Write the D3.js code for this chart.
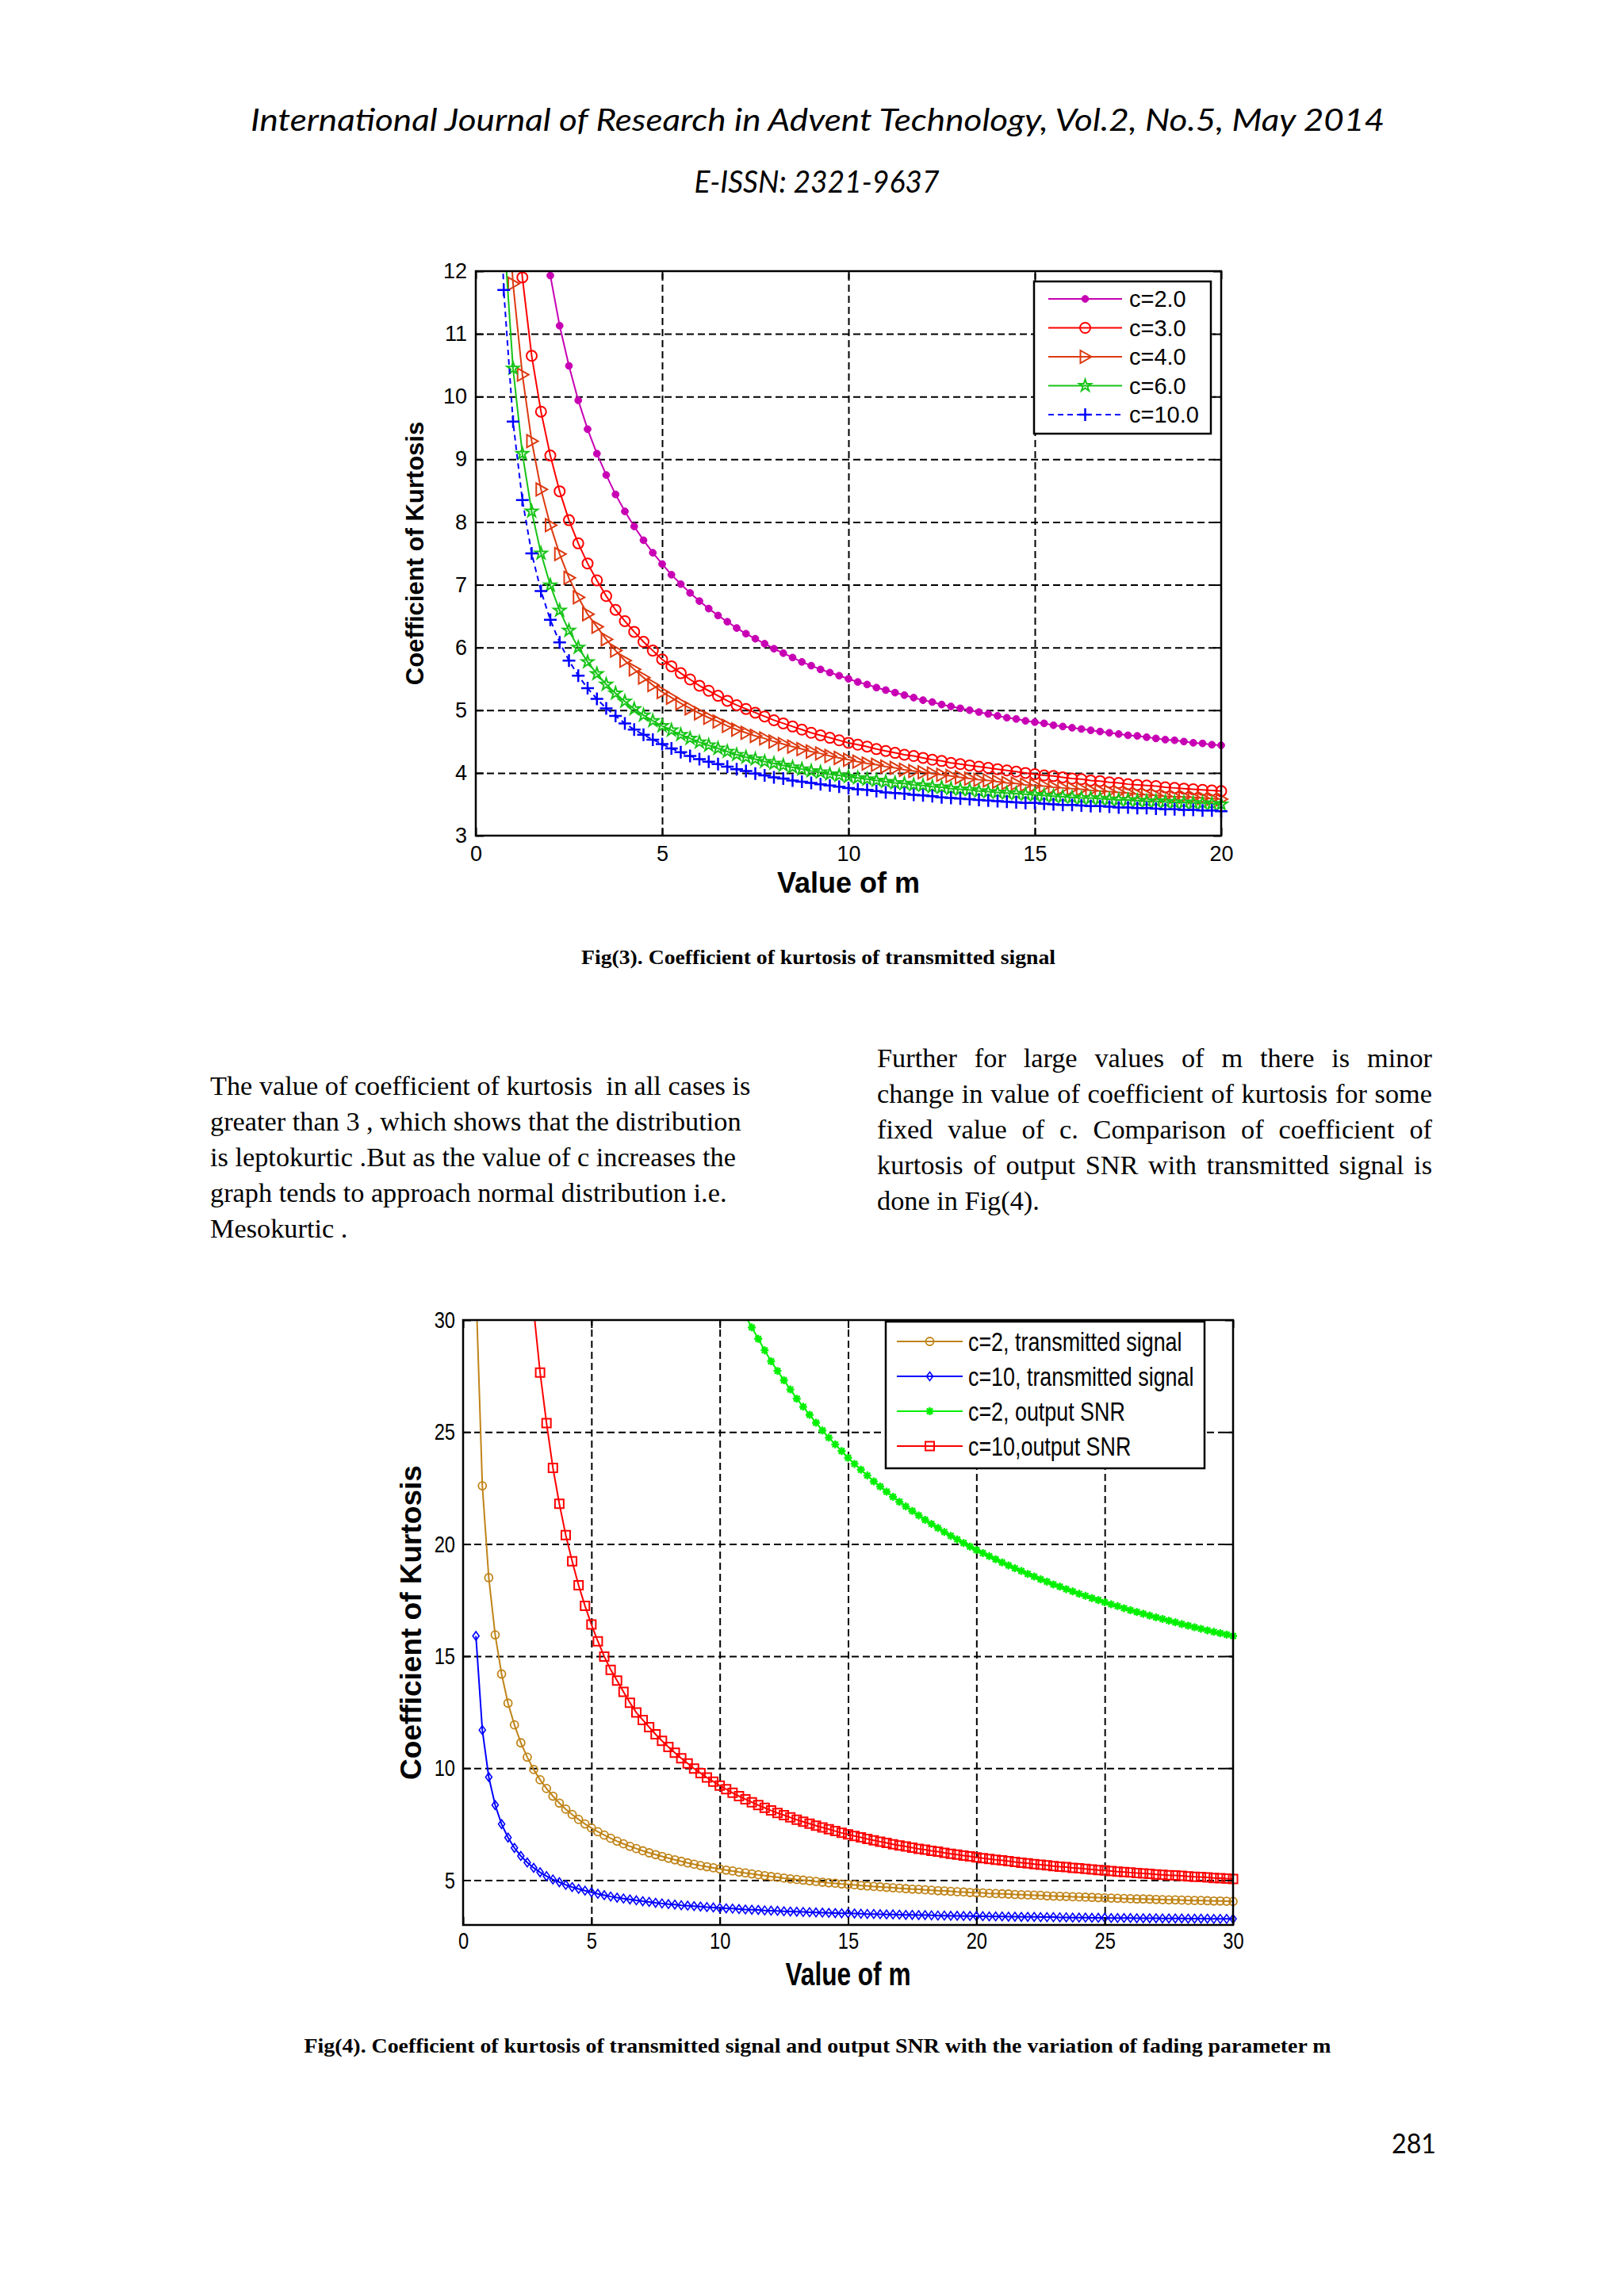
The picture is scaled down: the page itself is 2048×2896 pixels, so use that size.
<!DOCTYPE html>
<html>
<head>
<meta charset="utf-8">
<script src="https://cdnjs.cloudflare.com/ajax/libs/d3/7.8.5/d3.min.js"></script>
<style>
  body { margin: 0; background: #fff; }
  svg { display: block; }
</style>
</head>
<body>
<script>
// every curve is sampled on the same m grid
var mStep = 0.25;

// transmitted signal, c=2 (m = 0.5 .. 30)
var kurtC2Start = 0.5;
var kurtC2 = [31.5, 22.6,
  18.5, 15.95, 14.2, 12.9,   11.93, 11.13, 10.49, 9.94,   9.48, 9.09, 8.75, 8.44,
  8.17, 7.93, 7.71, 7.51,    7.33, 7.16, 7.01, 6.87,      6.74, 6.62, 6.51, 6.41,
  6.31, 6.22, 6.14, 6.06,    5.98, 5.91, 5.84, 5.77,      5.71, 5.65, 5.60, 5.55,
  5.50, 5.45, 5.41, 5.36,    5.32, 5.28, 5.24, 5.20,      5.16, 5.13, 5.09, 5.06,
  5.03, 5.00, 4.97, 4.94,    4.91, 4.88, 4.86, 4.83,      4.81, 4.79, 4.76, 4.74,
  4.72, 4.70, 4.68, 4.66,    4.64, 4.62, 4.60, 4.59,      4.57, 4.55, 4.53, 4.52,
  4.50, 4.48, 4.47, 4.45,    4.44, 4.43, 4.41, 4.40,      4.39, 4.38, 4.36, 4.35,
  4.34, 4.33, 4.32, 4.30,    4.29, 4.28, 4.27, 4.26,      4.25, 4.24, 4.23, 4.22,
  4.21, 4.20, 4.19, 4.18,    4.17, 4.16, 4.16, 4.15,      4.14, 4.13, 4.12, 4.12,
  4.11, 4.10, 4.09, 4.09,    4.08, 4.07, 4.07, 4.06,
  4.05];

// transmitted signal, c=3 (m = 0.5 .. 20)
var kurtC3Start = 0.5;
var kurtC3 = [21.5, 16.45,
  13.7, 11.9, 10.65, 9.76,   9.06, 8.49, 8.03, 7.66,      7.34, 7.07, 6.82, 6.60,
  6.42, 6.25, 6.09, 5.95,    5.81, 5.70, 5.59, 5.49,      5.39, 5.31, 5.23, 5.15,
  5.08, 5.02, 4.96, 4.90,    4.84, 4.79, 4.74, 4.69,      4.64, 4.60, 4.56, 4.52,
  4.48, 4.45, 4.42, 4.38,    4.35, 4.32, 4.29, 4.27,      4.24, 4.21, 4.19, 4.16,
  4.14, 4.12, 4.10, 4.08,    4.06, 4.04, 4.02, 4.00,      3.98, 3.96, 3.95, 3.93,
  3.91, 3.90, 3.88, 3.87,    3.85, 3.84, 3.82, 3.81,      3.80, 3.79, 3.77, 3.76,
  3.75, 3.74, 3.73, 3.72,
  3.71];

// transmitted signal, c=4 (m = 0.5 .. 20)
var kurtC4Start = 0.5;
var kurtC4 = [18.3, 14.1,
  11.8, 10.35, 9.29, 8.52,   7.95, 7.49, 7.11, 6.80,      6.53, 6.33, 6.13, 5.95,
  5.79, 5.65, 5.52, 5.40,    5.29, 5.20, 5.11, 5.03,      4.95, 4.88, 4.82, 4.75,
  4.69, 4.64, 4.59, 4.55,    4.50, 4.46, 4.42, 4.38,      4.34, 4.31, 4.27, 4.24,
  4.21, 4.18, 4.15, 4.13,    4.10, 4.08, 4.05, 4.03,      4.01, 3.99, 3.97, 3.95,
  3.93, 3.91, 3.89, 3.88,    3.86, 3.84, 3.83, 3.81,      3.80, 3.79, 3.77, 3.76,
  3.75, 3.74, 3.72, 3.71,    3.70, 3.69, 3.68, 3.66,      3.65, 3.64, 3.63, 3.62,
  3.62, 3.61, 3.60, 3.59,
  3.58];

// transmitted signal, c=6 (m = 0.5 .. 20)
var kurtC6Start = 0.5;
var kurtC6 = [16.9, 12.65,
  10.45, 9.09, 8.17, 7.50,   6.99, 6.59, 6.27, 6.00,      5.77, 5.58, 5.41, 5.27,
  5.14, 5.02, 4.92, 4.83,    4.75, 4.68, 4.61, 4.55,      4.49, 4.44, 4.39, 4.34,
  4.29, 4.25, 4.22, 4.18,    4.15, 4.12, 4.09, 4.06,      4.03, 4.01, 3.98, 3.96,
  3.94, 3.92, 3.90, 3.88,    3.86, 3.84, 3.83, 3.81,      3.80, 3.78, 3.77, 3.75,
  3.74, 3.73, 3.71, 3.70,    3.69, 3.68, 3.67, 3.66,      3.65, 3.64, 3.63, 3.62,
  3.61, 3.60, 3.60, 3.59,    3.58, 3.57, 3.57, 3.56,      3.55, 3.55, 3.54, 3.53,
  3.53, 3.52, 3.52, 3.51,
  3.50];

// transmitted signal, c=10 (m = 0.5 .. 30)
var kurtC10Start = 0.5;
var kurtC10 = [15.9, 11.7,
  9.60, 8.35, 7.50, 6.90,    6.44, 6.08, 5.79, 5.55,      5.35, 5.18, 5.03, 4.91,
  4.79, 4.69, 4.61, 4.53,    4.46, 4.39, 4.33, 4.27,      4.22, 4.18, 4.14, 4.10,
  4.06, 4.03, 3.99, 3.96,    3.93, 3.91, 3.88, 3.86,      3.84, 3.82, 3.80, 3.78,
  3.76, 3.74, 3.73, 3.71,    3.69, 3.68, 3.67, 3.65,      3.64, 3.63, 3.61, 3.60,
  3.59, 3.58, 3.57, 3.56,    3.55, 3.54, 3.53, 3.52,      3.52, 3.51, 3.50, 3.49,
  3.49, 3.48, 3.47, 3.47,    3.46, 3.45, 3.45, 3.44,      3.44, 3.43, 3.42, 3.42,
  3.41, 3.41, 3.40, 3.40,    3.39, 3.39, 3.38, 3.38,      3.38, 3.37, 3.37, 3.36,
  3.36, 3.36, 3.35, 3.35,    3.35, 3.34, 3.34, 3.33,      3.33, 3.33, 3.32, 3.32,
  3.32, 3.31, 3.31, 3.31,    3.31, 3.30, 3.30, 3.30,      3.30, 3.29, 3.29, 3.29,
  3.29, 3.28, 3.28, 3.28,    3.28, 3.27, 3.27, 3.27,
  3.27];

// output SNR, c=2 (m = 11 .. 30)
var snrC2Start = 11;
var snrC2 = [
  30.19, 29.67, 29.16, 28.65,  28.16, 27.73, 27.31, 26.90,  26.49, 26.13, 25.77, 25.42,
  25.07, 24.75, 24.45, 24.15,  23.85, 23.58, 23.32, 23.06,  22.80, 22.57, 22.34, 22.11,
  21.89, 21.68, 21.48, 21.28,  21.08, 20.90, 20.72, 20.54,  20.37, 20.21, 20.05, 19.89,
  19.74, 19.60, 19.46, 19.32,  19.18, 19.05, 18.92, 18.80,  18.67, 18.55, 18.43, 18.32,
  18.20, 18.10, 17.99, 17.89,  17.78, 17.69, 17.59, 17.50,  17.40, 17.31, 17.23, 17.14,
  17.05, 16.97, 16.89, 16.81,  16.73, 16.66, 16.58, 16.51,  16.43, 16.36, 16.29, 16.22,
  16.15, 16.08, 16.02, 15.96,
  15.90];

// output SNR, c=10 (m = 2.75 .. 30)
var snrC10Start = 2.75;
var snrC10 = [30.45,
  27.66, 25.4, 23.4, 21.8,     20.4, 19.23, 18.16, 17.24,   16.41, 15.66, 14.98, 14.39,
  13.91, 13.40, 12.92, 12.48,  12.15, 11.83, 11.51, 11.22,  10.94, 10.69, 10.44, 10.21,
  9.98, 9.78, 9.58, 9.40,      9.22, 9.06, 8.90, 8.75,      8.61, 8.48, 8.35, 8.23,
  8.11, 8.00, 7.90, 7.80,      7.70, 7.61, 7.52, 7.43,      7.35, 7.27, 7.19, 7.11,
  7.04, 6.97, 6.91, 6.84,      6.78, 6.72, 6.66, 6.60,      6.55, 6.50, 6.45, 6.40,
  6.36, 6.31, 6.27, 6.22,      6.18, 6.14, 6.10, 6.06,      6.02, 5.98, 5.95, 5.91,
  5.88, 5.85, 5.81, 5.78,      5.75, 5.72, 5.69, 5.66,      5.63, 5.60, 5.58, 5.55,
  5.53, 5.50, 5.48, 5.45,      5.43, 5.41, 5.38, 5.36,      5.34, 5.32, 5.30, 5.28,
  5.26, 5.24, 5.22, 5.21,      5.19, 5.17, 5.15, 5.14,      5.12, 5.10, 5.09, 5.07,
  5.05];

// tick values
var fig3XTicks = [0, 5, 10, 15, 20];
var fig3YTicks = [3, 4, 5, 6, 7, 8, 9, 10, 11, 12];
var fig4XTicks = [0, 5, 10, 15, 20, 25, 30];
var fig4YTicks = [5, 10, 15, 20, 25, 30];

var fig3Labels = ["c=2.0", "c=3.0", "c=4.0", "c=6.0", "c=10.0"];
var fig4Labels = ["c=2, transmitted signal", "c=10, transmitted signal", "c=2, output SNR", "c=10,output SNR"];

var SANS = "'Liberation Sans', Arial, sans-serif";
var SERIF = "'Liberation Serif', 'Times New Roman', serif";
var CAL = "Lato, 'Open Sans', sans-serif";

function series(start, vals, maxM) {
  return vals.map(function(v, i) { return {m: start + i * mStep, v: v}; })
    .filter(function(d) { return d.m <= maxM + 1e-9; });
}

// squeeze a text to a narrow face (no condensed font is installed)
function condense(sel, k) {
  if (!k || k === 1) return;
  sel.each(function() {
    var w = this.getComputedTextLength();
    d3.select(this).attr("textLength", w * k).attr("lengthAdjust", "spacingAndGlyphs");
  });
}

var markers = {
  dot: d3.symbol(d3.symbolCircle, 60)(),
  circle: d3.symbol(d3.symbolCircle, 133)(),
  triRight: "M-6,-8L8,0L-6,8Z",
  star: d3.symbol(d3.symbolStar, 72)(),
  plus: "M-8,0H8M0,-8V8",
  smallCircle: d3.symbol(d3.symbolCircle, 78)(),
  diamond: "M0,-5.5L4,0L0,5.5L-4,0Z",
  asterisk: "M-5,0H5M0,-5V5M-3.6,-3.6L3.6,3.6M-3.6,3.6L3.6,-3.6",
  square: "M-5.5,-5.5H5.5V5.5H-5.5Z"
};

var svg = d3.select("body").append("svg")
  .attr("width", 2048)
  .attr("height", 2896);
svg.append("rect").attr("width", 2048).attr("height", 2896).attr("fill", "#fff");
var defs = svg.append("defs");

function drawMarker(sel, s) {
  sel.attr("d", markers[s.marker])
    .attr("fill", s.fill ? s.color : "none")
    .attr("stroke", s.color)
    .attr("stroke-width", s.mw);
}

function drawChart(cfg) {
  var x = d3.scaleLinear().domain(cfg.xDomain).range([cfg.left, cfg.right]);
  var y = d3.scaleLinear().domain(cfg.yDomain).range([cfg.bottom, cfg.top]);
  var w = cfg.right - cfg.left, h = cfg.bottom - cfg.top;
  var g = svg.append("g");

  defs.append("clipPath").attr("id", cfg.id + "clip")
    .append("rect").attr("x", cfg.left).attr("y", cfg.top).attr("width", w).attr("height", h);

  // dashed grid
  g.append("g")
    .attr("transform", "translate(0," + cfg.bottom + ")")
    .call(d3.axisBottom(x).tickValues(cfg.xGrid).tickSize(-h).tickFormat(""))
    .call(function(a) { a.select(".domain").remove(); })
    .selectAll("line").attr("stroke", "#000").attr("stroke-width", 2).attr("stroke-dasharray", "9,5");
  g.append("g")
    .attr("transform", "translate(" + cfg.left + ",0)")
    .call(d3.axisLeft(y).tickValues(cfg.yGrid).tickSize(-w).tickFormat(""))
    .call(function(a) { a.select(".domain").remove(); })
    .selectAll("line").attr("stroke", "#000").attr("stroke-width", 2).attr("stroke-dasharray", "9,5");

  var line = d3.line().x(function(d) { return x(d.m); }).y(function(d) { return y(d.v); });

  cfg.series.forEach(function(s) {
    var sg = g.append("g");
    sg.append("path").datum(s.data)
      .attr("clip-path", "url(#" + cfg.id + "clip)")
      .attr("d", line)
      .attr("fill", "none")
      .attr("stroke", s.color)
      .attr("stroke-width", s.lw)
      .attr("stroke-dasharray", s.dash || null);
    sg.selectAll("path.mk")
      .data(s.data.filter(function(d) { return d.v <= cfg.yDomain[1] && d.v >= cfg.yDomain[0]; }))
      .join("path")
      .attr("class", "mk")
      .attr("transform", function(d) { return "translate(" + x(d.m) + "," + y(d.v) + ")"; })
      .call(drawMarker, s);
  });

  // box and inward ticks
  g.append("rect")
    .attr("x", cfg.left).attr("y", cfg.top).attr("width", w).attr("height", h)
    .attr("fill", "none").attr("stroke", "#000").attr("stroke-width", 2.5);

  var tk = 10;
  [[d3.axisBottom(x), "translate(0," + cfg.bottom + ")", cfg.xTicks],
   [d3.axisTop(x), "translate(0," + cfg.top + ")", cfg.xTicks],
   [d3.axisLeft(y), "translate(" + cfg.left + ",0)", cfg.yTicks],
   [d3.axisRight(y), "translate(" + cfg.right + ",0)", cfg.yTicks]].forEach(function(a) {
    g.append("g").attr("transform", a[1])
      .call(a[0].tickValues(a[2]).tickSizeInner(-tk).tickSizeOuter(0).tickFormat(""))
      .call(function(s) { s.select(".domain").remove(); })
      .selectAll("line").attr("stroke", "#000").attr("stroke-width", 2);
  });

  // tick labels
  var xl = g.append("g").attr("transform", "translate(0," + cfg.bottom + ")")
    .call(d3.axisBottom(x).tickValues(cfg.xTicks).tickSize(0).tickPadding(cfg.xPad));
  var yl = g.append("g").attr("transform", "translate(" + cfg.left + ",0)")
    .call(d3.axisLeft(y).tickValues(cfg.yTicks).tickSize(0).tickPadding(cfg.yPad));
  [xl, yl].forEach(function(a) {
    a.select(".domain").remove();
    a.attr("font-family", SANS).attr("font-size", cfg.tickSize);
    a.selectAll("text").attr("fill", "#000").call(condense, cfg.narrow);
  });

  // axis titles
  g.append("text")
    .attr("x", (cfg.left + cfg.right) / 2).attr("y", cfg.xTitleY)
    .attr("text-anchor", "middle")
    .attr("font-family", SANS).attr("font-weight", "bold").attr("font-size", cfg.xTitleSize)
    .text("Value of m")
    .call(condense, cfg.narrow);
  g.append("text")
    .attr("transform", "translate(" + cfg.yTitleX + "," + (cfg.top + cfg.bottom) / 2 + ") rotate(-90)")
    .attr("text-anchor", "middle")
    .attr("font-family", SANS).attr("font-weight", "bold").attr("font-size", cfg.yTitleSize)
    .text("Coefficient of Kurtosis");

  // legend
  var L = cfg.legend;
  var lg = g.append("g");
  lg.append("rect")
    .attr("x", L.x).attr("y", L.y).attr("width", L.w).attr("height", L.h)
    .attr("fill", "#fff").attr("stroke", "#000").attr("stroke-width", 2.5);
  cfg.series.forEach(function(s, i) {
    var ry = L.row0 + i * L.rowStep;
    lg.append("line")
      .attr("x1", L.x + L.line0).attr("x2", L.x + L.line1).attr("y1", ry).attr("y2", ry)
      .attr("stroke", s.color).attr("stroke-width", s.lw).attr("stroke-dasharray", s.dash || null);
    lg.append("path")
      .attr("transform", "translate(" + (L.x + (L.line0 + L.line1) / 2) + "," + ry + ")")
      .call(drawMarker, s);
    lg.append("text")
      .attr("x", L.x + L.text).attr("y", ry + L.textDy)
      .attr("font-family", SANS).attr("font-size", L.size)
      .text(cfg.labels[i])
      .call(condense, cfg.narrow);
  });
}

// Fig(3)
drawChart({
  id: "f3", left: 600, right: 1540, top: 342, bottom: 1054,
  xDomain: [0, 20], yDomain: [3, 12],
  xTicks: fig3XTicks, yTicks: fig3YTicks,
  xGrid: [5, 10, 15], yGrid: [4, 5, 6, 7, 8, 9, 10, 11],
  narrow: 1, tickSize: 27, xPad: 13, yPad: 11,
  xTitleSize: 36, xTitleY: 1126,
  yTitleX: 534, yTitleSize: 31,
  labels: fig3Labels,
  legend: {x: 1304, y: 355, w: 223, h: 192, row0: 377, rowStep: 36.5,
           line0: 18, line1: 111, text: 120, textDy: 10, size: 29},
  series: [
    {data: series(kurtC2Start, kurtC2, 20), color: "#c800b4", lw: 2, marker: "dot", fill: true, mw: 1},
    {data: series(kurtC3Start, kurtC3, 20), color: "#ff0000", lw: 2, marker: "circle", mw: 2},
    {data: series(kurtC4Start, kurtC4, 20), color: "#dd3a10", lw: 2, marker: "triRight", mw: 2},
    {data: series(kurtC6Start, kurtC6, 20), color: "#18c418", lw: 2, marker: "star", mw: 2},
    {data: series(kurtC10Start, kurtC10, 20), color: "#0000ff", lw: 2, dash: "7,5", marker: "plus", mw: 2.5}
  ]
});

// Fig(4)
drawChart({
  id: "f4", left: 584, right: 1555, top: 1665, bottom: 2428,
  xDomain: [0, 30], yDomain: [3, 30],
  xTicks: fig4XTicks, yTicks: fig4YTicks,
  xGrid: [5, 10, 15, 20, 25], yGrid: [5, 10, 15, 20, 25],
  narrow: 0.79, tickSize: 30, xPad: 9, yPad: 10,
  xTitleSize: 40, xTitleY: 2504,
  yTitleX: 531, yTitleSize: 37,
  labels: fig4Labels,
  legend: {x: 1117, y: 1667, w: 402, h: 185, row0: 1692, rowStep: 44,
           line0: 14, line1: 97, text: 104, textDy: 12, size: 34},
  series: [
    {data: series(kurtC2Start, kurtC2, 30), color: "#c08418", lw: 2, marker: "smallCircle", mw: 1.8},
    {data: series(kurtC10Start, kurtC10, 30), color: "#0000ff", lw: 2, marker: "diamond", mw: 1.6},
    {data: series(snrC2Start, snrC2, 30), color: "#00f000", lw: 2, marker: "asterisk", mw: 2.4},
    {data: series(snrC10Start, snrC10, 30), color: "#ff0000", lw: 2, marker: "square", mw: 2}
  ]
});

// page text
function plainText(str, x, y, font, size, opts) {
  opts = opts || {};
  var t = svg.append("text")
    .attr("x", x).attr("y", y)
    .attr("font-family", font).attr("font-size", size)
    .attr("text-anchor", opts.anchor || "start")
    .attr("font-style", opts.italic ? "italic" : null)
    .attr("font-weight", opts.bold ? "bold" : null)
    .style("white-space", "pre")
    .text(str);
  if (opts.len) t.attr("textLength", opts.len).attr("lengthAdjust", "spacingAndGlyphs");
  return t;
}

function justified(str, x0, x1, y, font, size) {
  var words = str.split(/\s+/);
  var probe = svg.append("text").attr("font-family", font).attr("font-size", size);
  var widths = words.map(function(wd) { probe.text(wd); return probe.node().getComputedTextLength(); });
  probe.remove();
  var gap = (x1 - x0 - d3.sum(widths)) / (words.length - 1);
  var t = svg.append("text").attr("y", y).attr("font-family", font).attr("font-size", size);
  var cx = x0;
  words.forEach(function(wd, i) {
    t.append("tspan").attr("x", cx).text(wd);
    cx += widths[i] + gap;
  });
}

plainText("International Journal of Research in Advent Technology, Vol.2, No.5, May 2014", 1031, 165, CAL, 38,
  {anchor: "middle", italic: true, len: 1430});
plainText("E-ISSN: 2321-9637", 1030, 243, CAL, 38, {anchor: "middle", italic: true, len: 309});

plainText("Fig(3). Coefficient of kurtosis of transmitted signal", 1032, 1216, SERIF, 25,
  {anchor: "middle", bold: true, len: 598});

var leftLines = [
  "The value of coefficient of kurtosis  in all cases is",
  "greater than 3 , which shows that the distribution",
  "is leptokurtic .But as the value of c increases the",
  "graph tends to approach normal distribution i.e.",
  "Mesokurtic ."
];
leftLines.forEach(function(s, i) { plainText(s, 265, 1381 + i * 45, SERIF, 34.3); });

var rightLines = [
  "Further for large values of m there is minor",
  "change in value of coefficient of kurtosis for some",
  "fixed value of c. Comparison of coefficient of",
  "kurtosis of output  SNR with transmitted signal is",
  "done in Fig(4)."
];
rightLines.forEach(function(s, i) {
  if (i < 4) justified(s, 1106, 1806, 1346 + i * 45, SERIF, 34.3);
  else plainText(s, 1106, 1346 + i * 45, SERIF, 34.3);
});

plainText("Fig(4). Coefficient of kurtosis of transmitted signal and output SNR with the variation of fading parameter m",
  1031, 2589, SERIF, 25, {anchor: "middle", bold: true, len: 1295});

plainText("281", 1811, 2716, CAL, 34, {anchor: "end", len: 56});
</script>
</body>
</html>
